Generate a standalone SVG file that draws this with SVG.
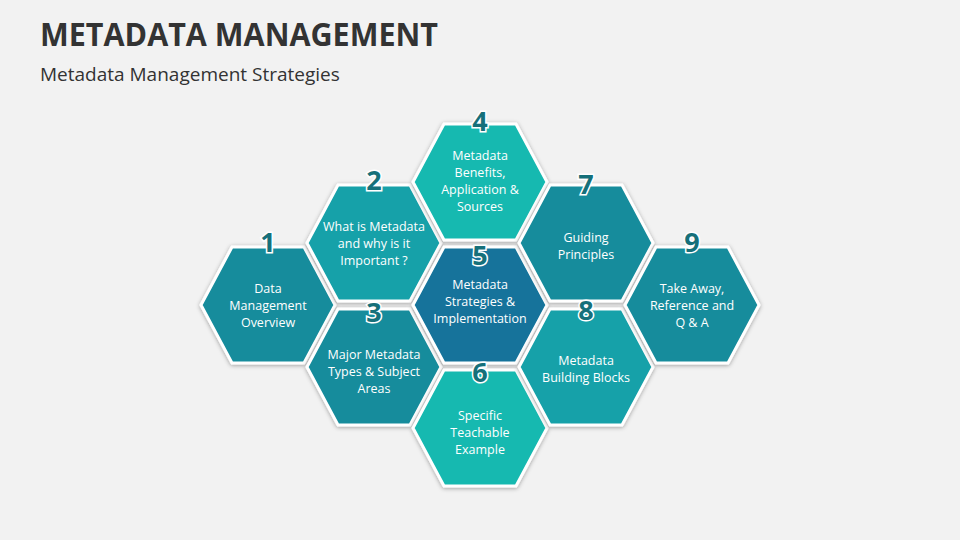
<svg xmlns="http://www.w3.org/2000/svg" width="960" height="540" viewBox="0 0 960 540">
<defs>
<filter id="sh" x="-20%" y="-20%" width="140%" height="140%"><feDropShadow dx="0" dy="1" stdDeviation="2" flood-color="#000" flood-opacity="0.35"/></filter>
<polygon id="hx" points="-67,0 -36,-58 36,-58 67,0 36,58 -36,58"/>
</defs>
<style>
.h{stroke:#fff;stroke-width:3;filter:url(#sh)}
.t{font-family:"Open Sans","Liberation Sans",sans-serif;font-size:12.5px;fill:#fff;text-anchor:middle}
.n{font-family:"Open Sans","Liberation Sans",sans-serif;font-size:27px;font-weight:bold;fill:#16707a;text-anchor:middle;stroke:#fff;stroke-width:3;paint-order:stroke}
</style>
<rect width="960" height="540" fill="#f2f2f2"/>
<text x="40" y="46" font-family="'Open Sans','Liberation Sans',sans-serif" font-weight="bold" font-size="32" fill="#333" textLength="398" lengthAdjust="spacingAndGlyphs">METADATA MANAGEMENT</text>
<text x="40" y="81" font-family="'Open Sans','Liberation Sans',sans-serif" font-size="19" fill="#333">Metadata Management Strategies</text>
<g id="connectors"/>
<g id="n1" transform="translate(268,305)"><use href="#hx" class="h" fill="#178c9c"/><text class="t" y="-12">Data</text><text class="t" y="5">Management</text><text class="t" y="22">Overview</text><text class="n" y="-53">1</text></g>
<g id="n2" transform="translate(374,243)"><use href="#hx" class="h" fill="#15a1a9"/><text class="t" y="-12">What is Metadata</text><text class="t" y="5">and why is it</text><text class="t" y="22">Important ?</text><text class="n" y="-53">2</text></g>
<g id="n3" transform="translate(374,367)"><use href="#hx" class="h" fill="#178c9c"/><text class="t" y="-8">Major Metadata</text><text class="t" y="9">Types &amp; Subject</text><text class="t" y="26">Areas</text><text class="n" y="-45">3</text></g>
<g id="n4" transform="translate(480,182)"><use href="#hx" class="h" fill="#16b9b0"/><text class="t" y="-22">Metadata</text><text class="t" y="-5">Benefits,</text><text class="t" y="12">Application &amp;</text><text class="t" y="29">Sources</text><text class="n" y="-51">4</text></g>
<g id="n5" transform="translate(480,305)"><use href="#hx" class="h" fill="#12739b"/><text class="t" y="-16">Metadata</text><text class="t" y="1">Strategies &amp;</text><text class="t" y="18">Implementation</text><text class="n" y="-40">5</text></g>
<g id="n6" transform="translate(480,428)"><use href="#hx" class="h" fill="#16b9b0"/><text class="t" y="-8">Specific</text><text class="t" y="9">Teachable</text><text class="t" y="26">Example</text><text class="n" y="-46">6</text></g>
<g id="n7" transform="translate(586,243)"><use href="#hx" class="h" fill="#178c9c"/><text class="t" y="-1">Guiding</text><text class="t" y="16">Principles</text><text class="n" y="-49">7</text></g>
<g id="n8" transform="translate(586,367)"><use href="#hx" class="h" fill="#15a1a9"/><text class="t" y="-2">Metadata</text><text class="t" y="15">Building Blocks</text><text class="n" y="-47">8</text></g>
<g id="n9" transform="translate(692,305)"><use href="#hx" class="h" fill="#178c9c"/><text class="t" y="-12">Take Away,</text><text class="t" y="5">Reference and</text><text class="t" y="22">Q &amp; A</text><text class="n" y="-53">9</text></g>
</svg>
